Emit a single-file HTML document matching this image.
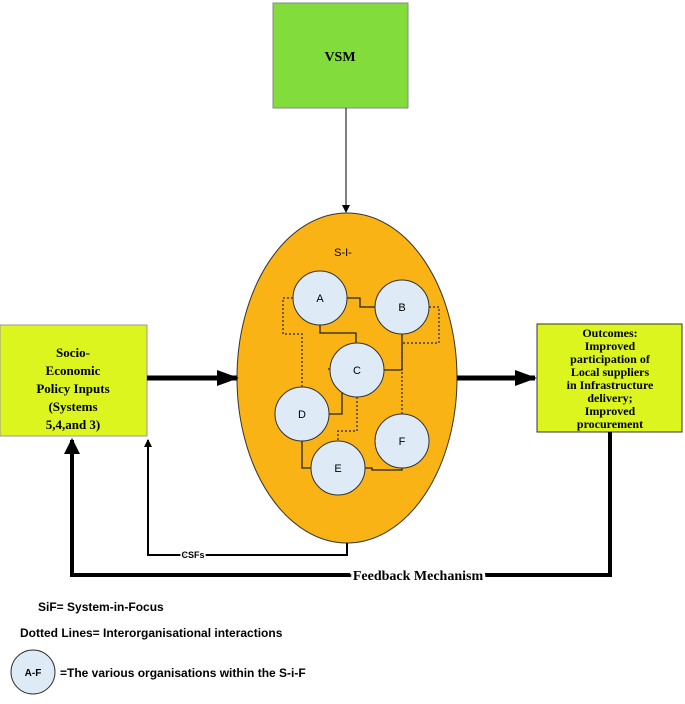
<!DOCTYPE html>
<html><head><style>body{margin:0;background:#fff}</style></head><body>
<svg width="685" height="699" xmlns="http://www.w3.org/2000/svg" font-family="Liberation Sans, sans-serif">
<defs>
<marker id="a" markerWidth="8" markerHeight="8" refX="7" refY="4" orient="auto" markerUnits="userSpaceOnUse"><path d="M0,0 L8,4 L0,8z" fill="#000"/></marker>
<marker id="b" markerWidth="22" markerHeight="16" refX="20" refY="8" orient="auto" markerUnits="userSpaceOnUse"><path d="M0,0 L22,8 L0,16z" fill="#000"/></marker>
<marker id="c" markerWidth="16" markerHeight="16" refX="14" refY="8" orient="auto" markerUnits="userSpaceOnUse"><path d="M0,0 L16,8 L0,16z" fill="#000"/></marker>
</defs>
<rect x="273" y="3" width="135" height="105" fill="#82dc3c" stroke="#888"/>
<text x="340" y="61" text-anchor="middle" font-family="Liberation Serif, serif" font-weight="bold" font-size="14">VSM</text>
<line x1="346" y1="108" x2="346" y2="212" stroke="#000" marker-end="url(#a)"/>
<ellipse cx="347" cy="378" rx="110" ry="165" fill="#f9b314" stroke="#333"/>
<text x="343" y="256" text-anchor="middle" font-size="11">S-I-</text>
<g fill="none" stroke="#222" stroke-width="1.3">
<path d="M347,298 H360 V307 H375"/>
<path d="M320,325 V333 H356 V343"/>
<path d="M384,370 H402 V334"/>
<path d="M329,414 H342 V369 H328"/>
<path d="M302,441 V468 H311"/>
<path d="M365,468 H372 V470 H402 V468"/>
</g>
<g fill="none" stroke="#222" stroke-dasharray="2,2" stroke-width="1.2">
<path d="M293,298 H283 V334 H302 V387"/>
<path d="M429,307 H439 V343 H402 V414"/>
<path d="M357,397 V431 H338 V441"/>
</g>
<g fill="#deeaf6" stroke="#333">
<circle cx="320" cy="298" r="27"/><circle cx="402" cy="307" r="27"/>
<circle cx="357" cy="370" r="27"/><circle cx="302" cy="414" r="27"/>
<circle cx="338" cy="468" r="27"/><circle cx="402" cy="441" r="27"/>
</g>
<g font-size="11" text-anchor="middle">
<text x="320" y="302">A</text><text x="402" y="311">B</text><text x="357" y="374">C</text>
<text x="302" y="418">D</text><text x="338" y="472">E</text><text x="402" y="445">F</text>
</g>
<rect x="0" y="325" width="147" height="111" fill="#dcf51e" stroke="#999"/>
<g font-family="Liberation Serif, serif" font-weight="bold" font-size="13" text-anchor="middle">
<text x="73" y="357">Socio-</text><text x="73" y="375">Economic</text><text x="73" y="393">Policy Inputs</text><text x="73" y="411">(Systems</text><text x="73" y="429">5,4,and 3)</text>
</g>
<rect x="537" y="324" width="145" height="108" fill="#dcf51e" stroke="#333"/>
<g font-family="Liberation Serif, serif" font-weight="bold" font-size="12" text-anchor="middle">
<text x="610" y="337">Outcomes:</text><text x="610" y="350">Improved</text><text x="610" y="363">participation of</text><text x="610" y="376">Local suppliers</text><text x="610" y="389">in Infrastructure</text><text x="610" y="402">delivery;</text><text x="610" y="415">Improved</text><text x="610" y="428">procurement</text>
</g>
<line x1="147" y1="378" x2="237" y2="378" stroke="#000" stroke-width="5" marker-end="url(#b)"/>
<line x1="457" y1="378" x2="535" y2="378" stroke="#000" stroke-width="5" marker-end="url(#b)"/>
<polyline points="610,432 610,575 72,575 72,440" fill="none" stroke="#000" stroke-width="4" marker-end="url(#c)"/>
<polyline points="347,543 347,555 148,555 148,440" fill="none" stroke="#000" stroke-width="2" marker-end="url(#a)"/>
<text x="193" y="558" font-size="9" font-weight="bold" text-anchor="middle" style="paint-order:stroke" stroke="#fff" stroke-width="3">CSFs</text>
<text x="418" y="580" font-family="Liberation Serif, serif" font-weight="bold" font-size="14" text-anchor="middle" style="paint-order:stroke" stroke="#fff" stroke-width="6">Feedback Mechanism</text>
<text x="38" y="611" font-size="12" font-weight="bold">SiF= System-in-Focus</text>
<text x="20" y="637" font-size="12" font-weight="bold">Dotted Lines= Interorganisational interactions</text>
<circle cx="33" cy="672" r="22" fill="#deeaf6" stroke="#333"/>
<text x="33" y="676" font-size="10" font-weight="bold" text-anchor="middle">A-F</text>
<text x="60" y="677" font-size="12" font-weight="bold">=The various organisations within the S-i-F</text>
</svg>
</body></html>
